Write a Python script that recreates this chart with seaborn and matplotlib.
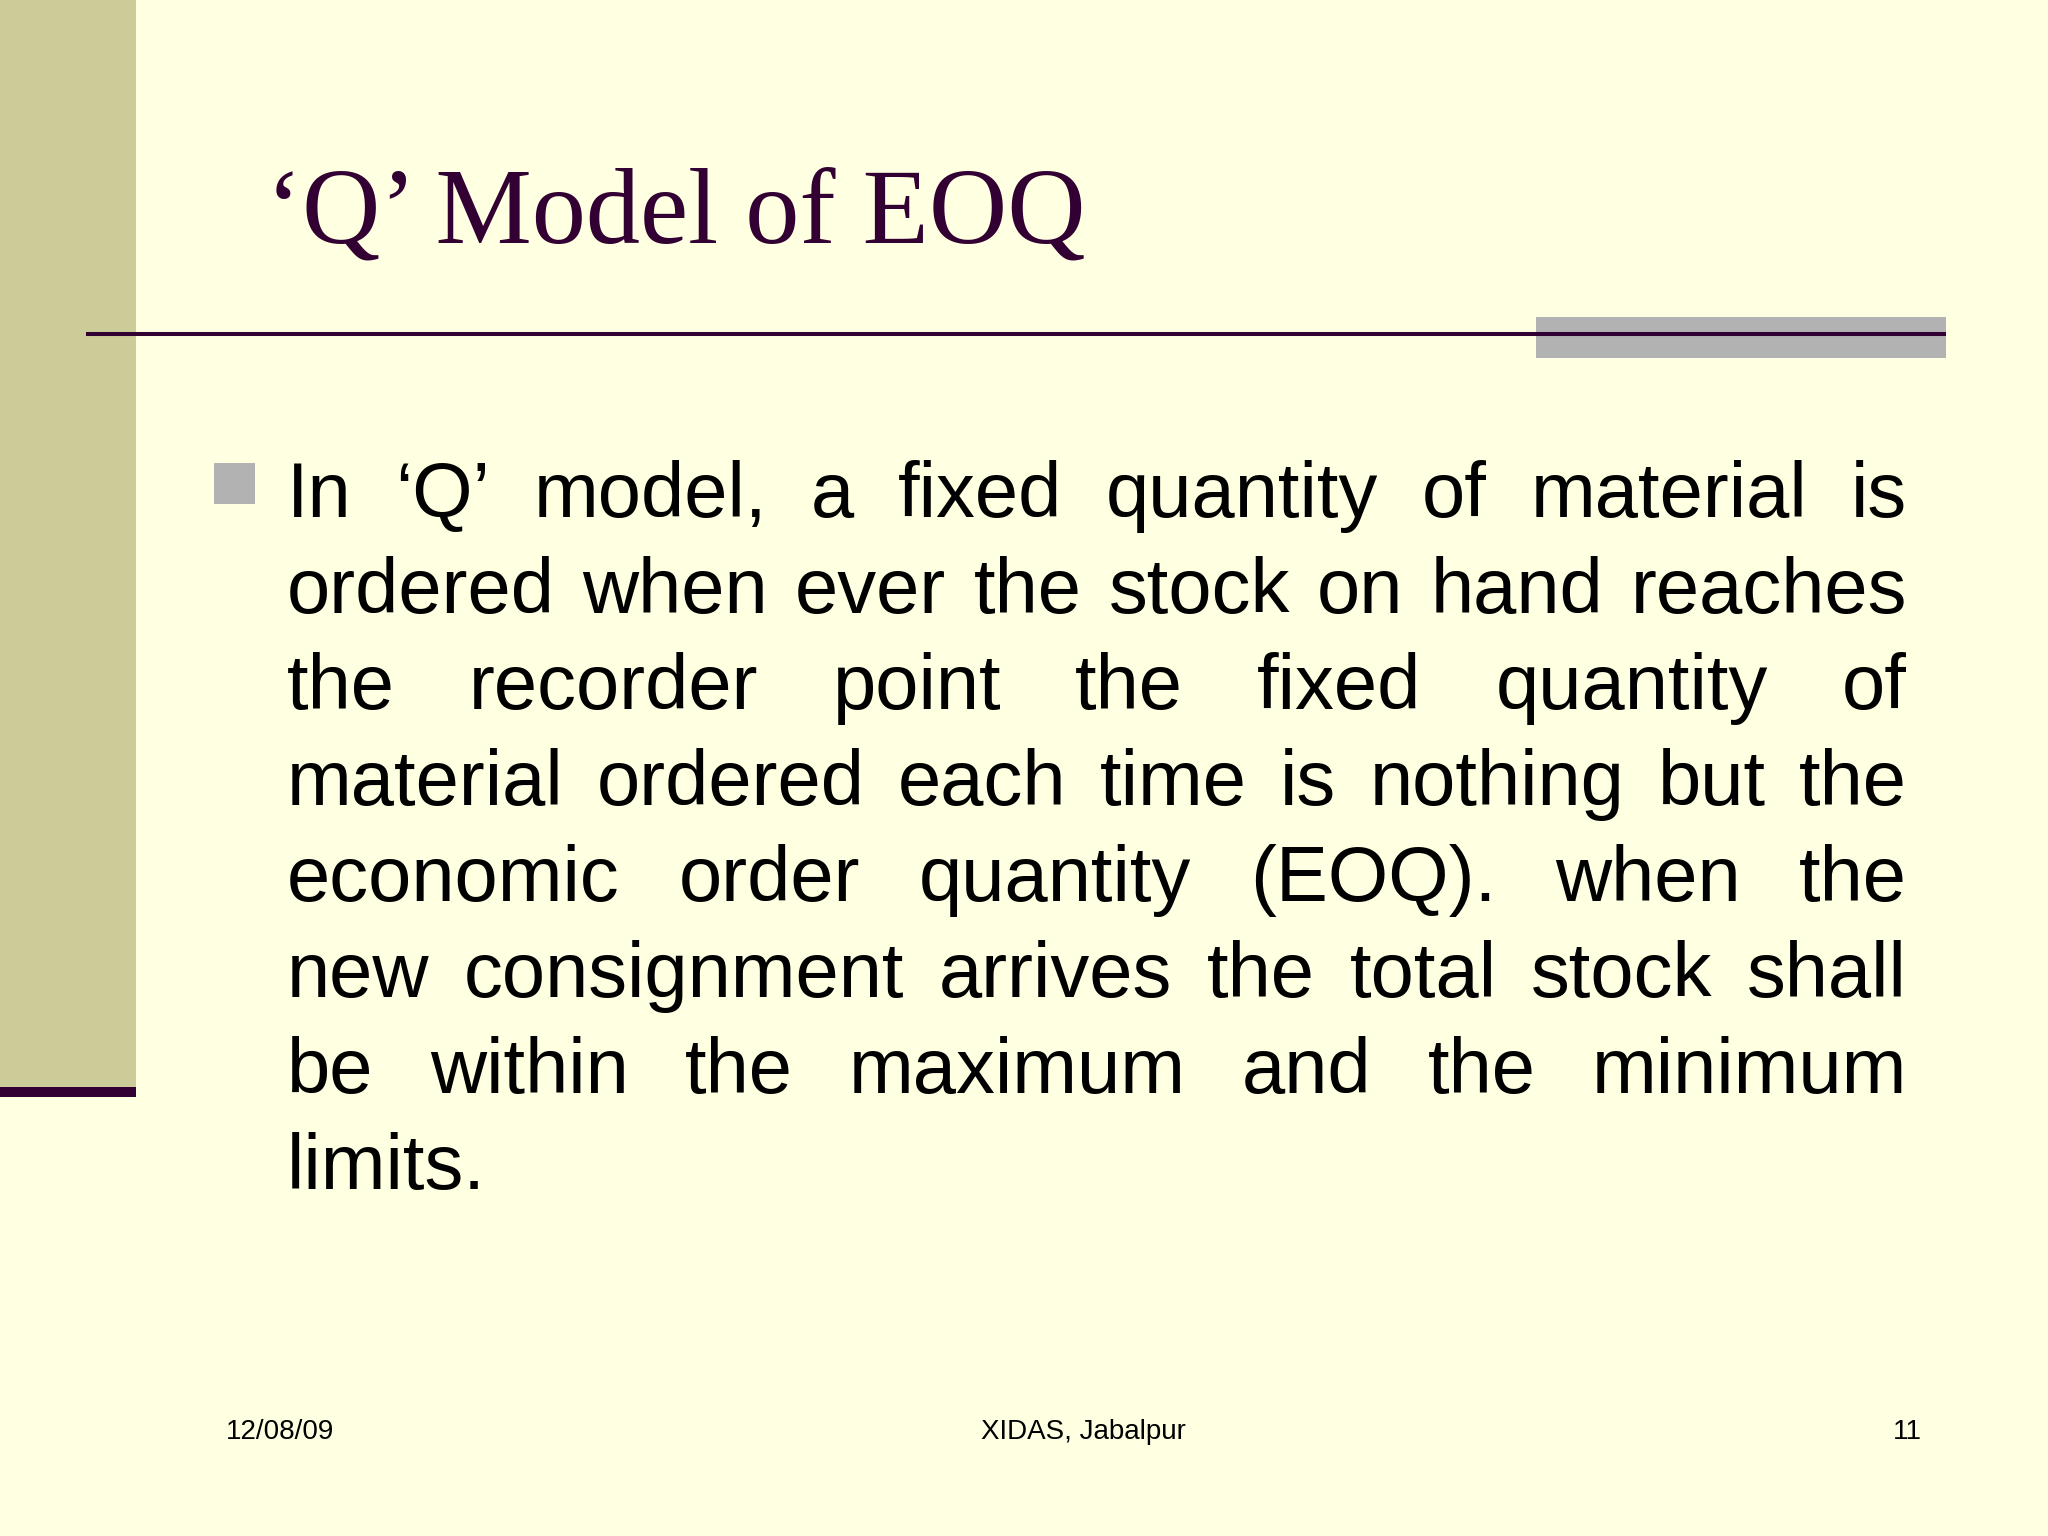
import matplotlib
matplotlib.use("Agg")
import matplotlib.pyplot as plt
from matplotlib.patches import Rectangle
import seaborn as sns

# Slide size in pixels (figure is drawn 1:1 in pixel coordinates)
W, H = 2048, 1536

# Slide content
title_text = "\u2018Q\u2019 Model of EOQ"
body_lines = [
    "In \u2018Q\u2019 model, a fixed quantity of material is",
    "ordered when ever the stock on hand reaches",
    "the recorder point the fixed quantity of",
    "material ordered each time is nothing but the",
    "economic order quantity (EOQ). when the",
    "new consignment arrives the total stock shall",
    "be within the maximum and the minimum",
    "limits.",
]
footer_left = "12/08/09"
footer_center = "XIDAS, Jabalpur"
footer_right = "11"

# Colours
BG = "#FFFFE1"
SIDEBAR = "#CCCC99"
PURPLE = "#330033"
GREY = "#B2B2B2"

sns.set_theme(style="white")
plt.rcParams['font.family'] = ['Liberation Sans', 'DejaVu Sans']

fig = plt.figure(figsize=(W / 100, H / 100), dpi=100)
fig.patch.set_facecolor(BG)
ax = fig.add_axes([0, 0, 1, 1])
ax.set_xlim(0, W)
ax.set_ylim(H, 0)
ax.set_facecolor(BG)
ax.axis('off')

# Left sidebar with dark foot
ax.add_patch(Rectangle((0, 0), 136, 1087, color=SIDEBAR, lw=0, zorder=1))
ax.add_patch(Rectangle((0, 1087), 136, 10, color=PURPLE, lw=0, zorder=1))

# Title rule with grey block at the right end
ax.add_patch(Rectangle((1536, 317), 410, 41, color=GREY, lw=0, zorder=2))
ax.plot([86, 1946], [334, 334], color=PURPLE, lw=2.9, solid_capstyle='butt', zorder=3)

# Title
ax.text(266, 243, title_text, family=['Liberation Serif', 'DejaVu Serif'],
        fontsize=78, color=PURPLE, va='baseline', ha='left', zorder=4)

# Bullet square
ax.add_patch(Rectangle((214, 463), 41, 41, color=GREY, lw=0, zorder=2))

# Justified body text
renderer = fig.canvas.get_renderer()
left, right = 287, 1907
first_base, line_gap = 517, 96
body_size = 56
for i, line in enumerate(body_lines):
    y = first_base + i * line_gap
    words = line.split(" ")
    texts = [ax.text(0, y, w, fontsize=body_size, color='black',
                     va='baseline', ha='left', zorder=4) for w in words]
    widths = [t.get_window_extent(renderer).width for t in texts]
    if i == len(body_lines) - 1 or len(words) == 1:
        gap = body_size * 100 / 72 * 0.278
    else:
        gap = (right - left - sum(widths)) / (len(words) - 1)
    x = left
    for t, w in zip(texts, widths):
        t.set_x(x)
        x += w + gap

# Footer
ax.text(226, 1439, footer_left, fontsize=20, color='black', va='baseline', ha='left')
ax.text(1083, 1439, footer_center, fontsize=20, color='black', va='baseline', ha='center')
ax.text(1922, 1439, footer_right, fontsize=20, color='black', va='baseline', ha='right')

fig.savefig("out.png", dpi=100, facecolor=BG)
plt.close(fig)
